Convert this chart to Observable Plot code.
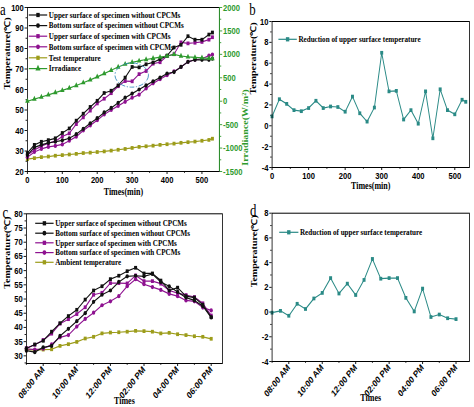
<!DOCTYPE html>
<html><head><meta charset="utf-8">
<script src="https://cdn.jsdelivr.net/npm/d3@7"></script>
<script src="https://cdn.jsdelivr.net/npm/@observablehq/plot@0.6"></script>
<style>
html,body{margin:0;padding:0;background:#fff;overflow:hidden;width:474px;height:407px;}
#wrap{position:absolute;left:0;top:0;width:592.5px;height:407px;transform:scaleX(0.8);transform-origin:0 0;}
</style></head><body><div id="wrap"></div>
<script>
// ---------- DATA ----------
// Panel a (time in minutes)
const timesA = [0,20,40,60,80,100,120,140,160,180,200,220,240,260,280,300,320,340,360,380,400,420,440,460,480,500,520,530];
const upperWithoutA = [29.0,33.0,34.5,35.3,36.2,38.8,41.0,44.8,48.2,51.5,54.5,58.3,59.4,62.0,65.8,71.0,70.8,72.3,73.2,74.8,76.5,80.5,81.8,86.0,84.3,84.3,86.8,87.8];
const bottomWithoutA = [28.0,31.8,33.0,34.0,34.5,35.2,36.2,38.2,40.8,43.5,46.0,48.8,51.0,53.5,56.0,58.0,60.0,62.0,64.0,65.8,67.8,68.5,71.0,73.5,74.5,74.5,74.5,75.0];
const upperWithA = [28.1,30.5,32.4,33.8,34.8,37.1,38.6,43.1,46.4,49.7,53.2,55.5,58.2,61.6,64.1,64.0,67.5,69.0,72.6,73.3,76.3,77.2,83.0,82.5,82.8,83.2,84.3,85.5];
const bottomWithA = [27.0,29.5,31.0,32.0,32.5,33.2,35.0,37.0,40.0,42.5,45.0,47.8,50.0,52.0,54.0,56.0,57.5,60.5,63.0,65.0,67.0,68.8,71.0,73.5,74.5,75.0,76.5,77.0];
const testTempA = [26.0,26.5,27.0,27.3,27.7,28.0,28.3,28.6,29.0,29.2,29.5,29.8,30.2,30.6,31.0,31.5,32.0,32.3,32.6,33.0,33.3,33.6,34.0,34.3,34.6,35.0,35.4,36.0];
const irradianceA = [0,45,90,135,185,230,280,335,395,455,520,590,660,730,790,830,860,890,915,940,965,1000,965,945,935,925,915,910];
const xTicksA = [0,100,200,300,400,500];
const xMinorA = [50,150,250,350,450];
const yTicksA = [20,30,40,50,60,70,80,90,100];
const yMinorA = [25,35,45,55,65,75,85,95];
const irrTicksA = [-1500,-1000,-500,0,500,1000,1500,2000];
const irrMinorA = [-1250,-750,-250,250,750,1250,1750];

// Panel b
const reductionB = [0.9,2.55,2.1,1.5,1.4,1.7,2.4,1.7,1.85,1.8,1.35,2.8,1.2,0.4,1.75,7.0,3.3,3.35,0.6,1.5,0.2,3.3,-1.2,3.5,1.5,1.1,2.5,2.3];
const yTicksB = [-4,-2,0,2,4,6,8,10];
const yMinorB = [-3,-1,1,3,5,7,9];

// Panel c / d (clock times)
const timesC = ["07:00","07:30","08:00","08:30","09:00","09:30","10:00","10:30","11:00","11:30","12:00","12:30","13:00","13:30","14:00","14:30","15:00","15:30","16:00","16:30","17:00","17:30","18:00"];
const upperWithoutC = [32.6,34.0,35.3,38.5,41.5,44.0,46.2,49.8,53.0,54.5,57.0,58.2,59.8,61.0,59.0,59.0,56.5,53.0,54.0,51.0,50.5,48.0,43.6];
const bottomWithoutC = [31.8,31.3,33.0,33.5,37.0,39.5,42.2,45.0,49.0,51.5,53.0,56.0,58.0,58.2,58.0,58.8,56.0,54.5,52.5,50.5,49.5,47.5,43.5];
const upperWithC = [32.7,33.9,35.6,37.8,41.3,42.9,44.7,47.1,51.5,52.2,55.6,55.6,55.5,58.3,56.3,56.3,55.4,53.0,52.1,51.4,50.7,48.5,44.2];
const bottomWithC = [32.5,32.2,32.5,34.0,36.5,37.3,40.3,43.0,45.2,47.8,49.2,51.0,54.5,57.0,55.2,54.2,53.2,51.8,51.0,49.5,49.2,47.0,46.0];
const ambientC = [32.3,32.0,32.2,32.3,33.5,34.1,34.9,36.1,36.7,37.9,38.2,38.3,38.5,38.8,38.7,38.5,37.9,38.1,37.6,37.3,36.9,36.7,36.0];
const reductionD = [-0.05,0.1,-0.3,0.67,0.25,1.1,1.55,2.75,1.5,2.3,1.38,2.6,4.3,2.7,2.75,2.75,1.15,0.05,1.9,-0.4,-0.2,-0.5,-0.57];
const timeTicksC = ["08:00","10:00","12:00","14:00","16:00","18:00"];
const timeMinorC = ["07:00","09:00","11:00","13:00","15:00","17:00"];
const timeDomainC = ["07:00","18:40"];
const timeDomainD = ["07:00","18:48"];
const yTicksC = [30,35,40,45,50,55,60,65,70,75,80];
const yMinorC = [27.5,32.5,37.5,42.5,47.5,52.5,57.5,62.5,67.5,72.5,77.5];
const yTicksD = [-4,-2,0,2,4,6,8];
const yMinorD = [-3,-1,1,3,5,7];

// ---------- STYLE ----------
const BLACK = "#111", PURPLE = "#8E1190", OLIVE = "#9C9C1A", GREEN = "#2E9A2E", TEAL = "#2A8A86", ELL = "#3A8FC0";
const serif = "'Liberation Serif','Times New Roman',serif";
const sans = "'Liberation Sans',Arial,sans-serif";
const baseStyle = {background: "transparent", overflow: "visible", fontFamily: sans, fontSize: "9.5px", fontWeight: "bold", maxWidth: "none", color: "#000"};
const titleOpts = {fontFamily: serif, fontSize: 10, fontWeight: "bold", fill: "#000"};
const toDate = s => { const [h, m] = s.split(":").map(Number); return new Date(Date.UTC(2020, 0, 1, h, m)); };
const fmtTime = d3.utcFormat("%I:%M %p");
const fmtNum = d => String(d);
const R = 2.1, LW = 1.2;

function series(xs, ys, color, symbol) {
  return [
    Plot.line(ys, {x: xs, y: ys, stroke: color, strokeWidth: LW}),
    Plot.dot(ys, {x: xs, y: ys, fill: color, stroke: "none", symbol, r: R})
  ];
}
function yAxes(major, minor, extra = {}) {
  return [
    Plot.axisY({ticks: major, tickSize: 3, tickPadding: 1.5, tickFormat: fmtNum, label: null, ...extra}),
    Plot.axisY({ticks: minor, tickSize: 1.8, tickFormat: () => "", label: null, ...extra})
  ];
}

const wrap = document.getElementById("wrap");
function place(el, x, y) { el.style.position = "absolute"; el.style.left = x + "px"; el.style.top = y + "px"; wrap.appendChild(el); }

// ---------- PANEL A ----------
const pa = Plot.plot({
  width: 320, height: 200, marginLeft: 33.75, marginRight: 46.25, marginTop: 7, marginBottom: 29,
  x: {domain: [0, 550]}, y: {domain: [20, 100]},
  style: baseStyle,
  marks: [
    Plot.axisX({ticks: xTicksA, tickSize: 3, tickPadding: 1.5, tickFormat: fmtNum, label: null}),
    Plot.axisX({ticks: xMinorA, tickSize: 1.8, tickFormat: () => "", label: null}),
    ...yAxes(yTicksA, yMinorA),
    ...series(timesA, testTempA, OLIVE, "square"),
    ...series(timesA, bottomWithA, PURPLE, "circle"),
    ...series(timesA, upperWithA, PURPLE, "square"),
    ...series(timesA, bottomWithoutA, BLACK, "circle"),
    ...series(timesA, upperWithoutA, BLACK, "square"),
    Plot.frame({stroke: "#000"}),
    Plot.text(["Temperature(℃)"], {frameAnchor: "left", dx: -25, rotate: -90, ...titleOpts}),
    Plot.text(["Times(min)"], {frameAnchor: "bottom", dy: 23, ...titleOpts})
  ]
});
place(pa, 0, 0);

const pIrr = Plot.plot({
  width: 320, height: 200, marginLeft: 33.75, marginRight: 46.25, marginTop: 7, marginBottom: 29,
  x: {domain: [0, 550], axis: null}, y: {domain: [-1500, 2000]},
  style: baseStyle,
  marks: [
    Plot.axisY({anchor: "right", ticks: irrTicksA, tickSize: 3, tickPadding: 1.5, tickFormat: fmtNum, label: null, color: GREEN}),
    Plot.axisY({anchor: "right", ticks: irrMinorA, tickSize: 1.8, tickFormat: () => "", label: null, color: GREEN}),
    Plot.ruleX([550], {stroke: GREEN, strokeWidth: 1.2}),
    ...series(timesA, irradianceA, GREEN, "triangle"),
    Plot.text(["Irradiance(W/m²)"], {frameAnchor: "right", dx: 32, rotate: -90, ...titleOpts, fill: GREEN})
  ]
});
place(pIrr, 0, 0);

// ---------- PANEL B ----------
const pb = Plot.plot({
  width: 292.5, height: 200, marginLeft: 39.6, marginRight: 6.25, marginTop: 21, marginBottom: 33,
  x: {domain: [0, 540]}, y: {domain: [-4, 10]},
  style: baseStyle,
  marks: [
    Plot.axisX({ticks: xTicksA, tickSize: 3, tickPadding: 1.5, tickFormat: fmtNum, label: null}),
    Plot.axisX({ticks: xMinorA, tickSize: 1.8, tickFormat: () => "", label: null}),
    ...yAxes(yTicksB, yMinorB),
    ...series(timesA, reductionB, TEAL, "square"),
    Plot.frame({stroke: "#000"}),
    Plot.text(["Temperature(℃)"], {frameAnchor: "left", dx: -23, rotate: -90, ...titleOpts}),
    Plot.text(["Times(min)"], {frameAnchor: "bottom", dy: 21, ...titleOpts})
  ]
});
place(pb, 300, 0);

// ---------- PANEL C ----------
const tC = timesC.map(toDate);
const pc = Plot.plot({
  width: 300, height: 207, marginLeft: 32.5, marginRight: 22.5, marginTop: 13.3, marginBottom: 44,
  x: {type: "utc", domain: timeDomainC.map(toDate)}, y: {domain: [27.3, 80]},
  style: baseStyle,
  marks: [
    Plot.axisX({ticks: timeTicksC.map(toDate), tickFormat: fmtTime, tickRotate: -45, tickSize: 3, tickPadding: 1.5, label: null}),
    Plot.axisX({ticks: timeMinorC.map(toDate), tickSize: 1.8, tickFormat: () => "", label: null}),
    ...yAxes(yTicksC, yMinorC),
    ...series(tC, ambientC, OLIVE, "square"),
    ...series(tC, bottomWithC, PURPLE, "circle"),
    ...series(tC, upperWithC, PURPLE, "square"),
    ...series(tC, bottomWithoutC, BLACK, "circle"),
    ...series(tC, upperWithoutC, BLACK, "square"),
    Plot.frame({stroke: "#000"}),
    Plot.text(["Temperature(℃)"], {frameAnchor: "left", dx: -24, rotate: -90, ...titleOpts}),
    Plot.text(["Times"], {frameAnchor: "bottom", dy: 40, ...titleOpts})
  ]
});
place(pc, 0, 200);

// ---------- PANEL D ----------
const pd = Plot.plot({
  width: 292.5, height: 207, marginLeft: 39.6, marginRight: 6.25, marginTop: 12.7, marginBottom: 46,
  x: {type: "utc", domain: timeDomainD.map(toDate)}, y: {domain: [-4, 8]},
  style: baseStyle,
  marks: [
    Plot.axisX({ticks: timeTicksC.map(toDate), tickFormat: fmtTime, tickRotate: -45, tickSize: 3, tickPadding: 1.5, label: null}),
    Plot.axisX({ticks: timeMinorC.map(toDate), tickSize: 1.8, tickFormat: () => "", label: null}),
    ...yAxes(yTicksD, yMinorD),
    ...series(tC, reductionD, TEAL, "square"),
    Plot.frame({stroke: "#000"}),
    Plot.text(["Temperature(℃)"], {frameAnchor: "left", dx: -22, rotate: -90, ...titleOpts}),
    Plot.text(["Times"], {frameAnchor: "bottom", dy: 39, ...titleOpts})
  ]
});
place(pd, 300, 200);

// ---------- OVERLAY: legends, letters, annotation ----------
const ov = d3.create("svg").attr("width", 592.5).attr("height", 407)
  .style("position", "absolute").style("left", "0px").style("top", "0px").style("overflow", "visible");
const symMap = {square: d3.symbolSquare, circle: d3.symbolCircle, triangle: d3.symbolTriangle};
function legend(items, x1, x2, tx, ys) {
  items.forEach((it, i) => {
    const y = ys[i];
    ov.append("line").attr("x1", x1).attr("x2", x2).attr("y1", y).attr("y2", y).attr("stroke", it.color).attr("stroke-width", LW);
    ov.append("path").attr("d", d3.symbol(symMap[it.symbol], Math.PI * 2.4 * 2.4)()).attr("transform", `translate(${(x1 + x2) / 2},${y})`).attr("fill", it.color);
    ov.append("text").attr("x", tx).attr("y", y).attr("dy", "0.32em").text(it.label)
      .attr("font-family", serif).attr("font-weight", "bold").attr("font-size", 8.9).attr("fill", "#000");
  });
}
legend([
  {label: "Upper surface of specimen without CPCMs", color: BLACK, symbol: "square"},
  {label: "Bottom surface of specimen without CPCMs", color: BLACK, symbol: "circle"},
  {label: "Upper surface of specimen with CPCMs", color: PURPLE, symbol: "square"},
  {label: "Bottom surface of specimen with CPCMs", color: PURPLE, symbol: "circle"},
  {label: "Test temperature", color: OLIVE, symbol: "square"},
  {label: "Irradiance", color: GREEN, symbol: "triangle"}
], 36, 59, 61, [15, 25.6, 36.2, 46.8, 57.8, 68.6]);
legend([{label: "Reduction of upper surface temperature", color: TEAL, symbol: "square"}], 348, 371, 373, [39.3]);
legend([
  {label: "Upper surface of specimen without CPCMs", color: BLACK, symbol: "square"},
  {label: "Bottom surface of specimen without CPCMs", color: BLACK, symbol: "circle"},
  {label: "Upper surface of specimen with CPCMs", color: PURPLE, symbol: "square"},
  {label: "Bottom surface of specimen with CPCMs", color: PURPLE, symbol: "circle"},
  {label: "Ambient temperature", color: OLIVE, symbol: "square"}
], 44, 67, 69, [223.3, 233.2, 242.8, 252.6, 262.3]);
legend([{label: "Reduction of upper surface temperature", color: TEAL, symbol: "square"}], 349, 373, 375, [232.3]);

[["a", 0, 15], ["b", 311.5, 15], ["c", 3, 218], ["d", 312.5, 216]].forEach(([t, x, y]) => {
  ov.append("text").attr("x", x).attr("y", y).text(t).attr("font-family", serif).attr("font-size", 16).attr("fill", "#000");
});

// dashed ellipse annotation around the 300-min dip (panel a)
const sxA = pa.scale("x"), syA = pa.scale("y");
const fx = d3.scaleLinear(sxA.domain, sxA.range), fy = d3.scaleLinear(syA.domain, syA.range);
ov.append("ellipse").attr("cx", fx(300)).attr("cy", fy(66.8))
  .attr("rx", Math.abs(fx(348) - fx(300))).attr("ry", Math.abs(fy(66.8 + 5.9) - fy(66.8)))
  .attr("fill", "none").attr("stroke", ELL).attr("stroke-width", 1).attr("stroke-dasharray", "6,2,1.5,2");
place(ov.node(), 0, 0);
</script></body></html>
